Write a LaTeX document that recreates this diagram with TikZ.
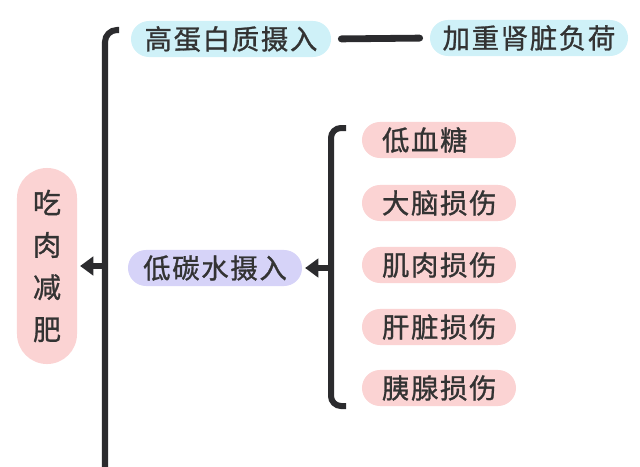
\documentclass[tikz,border=0pt]{standalone}
\usepackage{fontspec}
\usetikzlibrary{arrows.meta}
\newfontfamily\cjk{Noto Sans CJK SC}[LetterSpace=6, FakeBold=1]
\definecolor{ink}{HTML}{2B2B2E}
\definecolor{txt}{HTML}{333333}
\definecolor{cyanbg}{HTML}{CFF1F8}
\definecolor{lilac}{HTML}{D6D3F8}
\definecolor{pinkbg}{HTML}{FBD3D3}

\begin{document}
\begin{tikzpicture}[
    x=0.025cm, y=-0.025cm,
    every node/.style={font=\cjk\fontsize{19.5}{22}\selectfont, text=txt},
    pill/.style={
        rounded corners=0.45cm,
        inner sep=0pt,
        minimum height=0.9cm
    },
    topic/.style={
        pill,
        fill=cyanbg,
        minimum width=5.0cm
    },
    leaf/.style={
        pill,
        fill=pinkbg,
        text width=2.85cm,
        inner xsep=0.5cm,
        align=left
    },
    brk/.style={draw=ink, line width=0.15cm, rounded corners=0.3cm},
    arr/.style={draw=ink, line width=0.15cm,
        -{Triangle[length=0.33cm, width=0.46cm]}, shorten >=2pt}
]
    \useasboundingbox (0,0) rectangle (640,467);

    % root
    \node[pill, fill=pinkbg, rounded corners=0.75cm,
        minimum width=1.5cm, minimum height=4.9cm,
        align=center, font=\cjk\fontsize{20}{30}\selectfont]
        (root) at (47,266) {吃\\肉\\减\\肥};

    % first branch
    \node[topic] (high) at (231,39) {高蛋白质摄入};
    \node[topic, minimum width=4.95cm] (kidney) at (529,38) {加重肾脏负荷};
    \draw[ink, line width=0.17cm, line cap=round, shorten <=0.25cm, shorten >=0.25cm]
        (high.east) -- (kidney.west);

    % second branch
    \node[pill, fill=lilac, minimum width=4.35cm] (lowc) at (215,268) {低碳水摄入};

    \node[leaf] (sugar)    at (439,140) {低血糖};
    \node[leaf] (brain)    at (439,203) {大脑损伤};
    \node[leaf] (muscle)   at (439,265) {肌肉损伤};
    \node[leaf] (liver)    at (439,327) {肝脏损伤};
    \node[leaf] (pancreas) at (439,388) {胰腺损伤};

    % main bracket
    \coordinate (mtop) at (119,30);
    \coordinate (mbot) at (105,475);
    \draw[brk] (mtop) -- (mtop -| mbot) -- (mbot);
    \draw[arr] (root.east -| mbot) -- (root.east);

    % sub bracket
    \coordinate (btop) at (346,128);
    \coordinate (bbot) at (346,406);
    \coordinate (bline) at (331,268);
    \draw[brk, rounded corners=0.25cm]
        (btop) -- (btop -| bline) -- (bbot -| bline) -- (bbot);
    \draw[arr] (lowc.east -| bline) -- (lowc.east);

\end{tikzpicture}
\end{document}
